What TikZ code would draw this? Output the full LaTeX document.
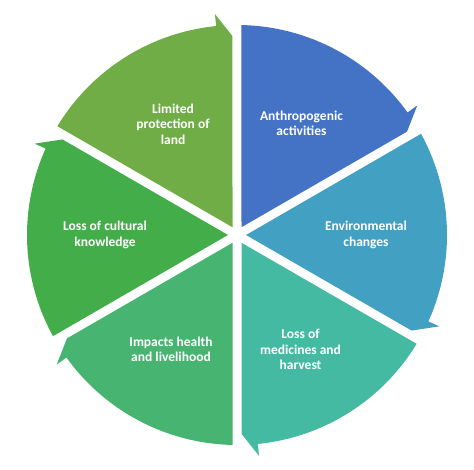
\documentclass[tikz,border=0pt]{standalone}
\usepackage{fontspec}
\setmainfont{Carlito}
\definecolor{anthrop}{RGB}{68,114,196}
\definecolor{envchange}{RGB}{66,160,194}
\definecolor{medloss}{RGB}{69,186,162}
\definecolor{healthimp}{RGB}{71,180,113}
\definecolor{cultloss}{RGB}{67,173,74}
\definecolor{landprot}{RGB}{112,173,71}
\tikzset{
  seglabel/.style={text=white, align=center,
    font=\bfseries\fontsize{13.5}{15.5}\selectfont},
}
% one slice of the cycle: #1 = start angle, #2 = colour
\newcommand{\cycleseg}[2]{%
  \pgfmathsetmacro{\segend}{#1-60}
  \fill[#2] ({#1-30}:9) -- ({#1-1.2}:210)
    arc[start angle=#1-1.2, end angle=\segend+5.7, radius=210]
    -- ({\segend+5.7}:222) -- ({\segend+1.3}:199) -- cycle;
}

\begin{document}
\begin{tikzpicture}[x=1pt, y=1pt]
  \useasboundingbox (0,0) rectangle (474,469);
  \coordinate (hub) at (237,234);
  \begin{scope}[shift={(hub)}]
    \cycleseg{90}{anthrop}
    \cycleseg{30}{envchange}
    \cycleseg{-30}{medloss}
    \cycleseg{-90}{healthimp}
    \cycleseg{-150}{cultloss}
    \cycleseg{150}{landprot}

    \node[seglabel] (anthro) at (60:129) {Anthropogenic\\activities};
    \node[seglabel] (envir) at (0:129) {Environmental\\changes};
    \node[seglabel] (medic) at (-61:131) {Loss of\\medicines and\\harvest};
    \node[seglabel] (health) at (-120:132) {Impacts health\\and livelihood};
    \node[seglabel] (cultur) at (180:132) {Loss of cultural\\knowledge};
    \node[seglabel] (landp) at (120:128) {Limited\\protection of\\land};
  \end{scope}
\end{tikzpicture}
\end{document}
